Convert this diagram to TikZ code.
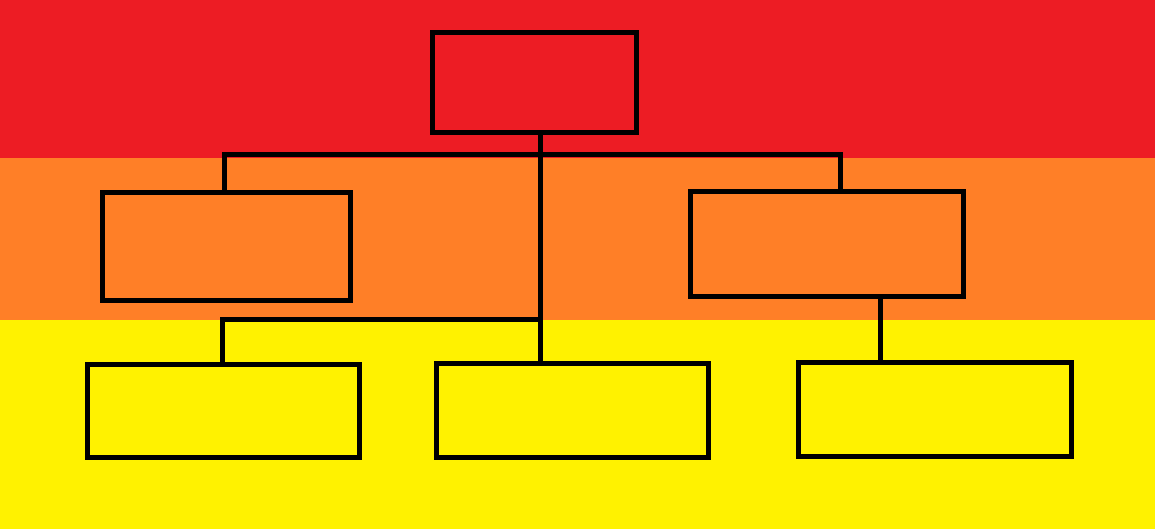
\documentclass[tikz,border=0pt]{standalone}
\usepackage{tikz}
\usepackage{color}

\definecolor{bandred}{HTML}{ED1C24}
\definecolor{bandorange}{HTML}{FF7F27}
\definecolor{bandyellow}{HTML}{FFF200}

\begin{document}
\begin{tikzpicture}[%
      x=1pt, y=-1pt,
      box/.style={draw=black, line width=5pt, rectangle, inner sep=0pt, outer sep=0pt},
      link/.style={draw=black, line width=5pt},
      ]
      \useasboundingbox (0,0) rectangle (1155,529);
      \fill [color=bandred] (0,0) rectangle (1155,158);
      \fill [color=bandorange] (0,158) rectangle (1155,320);
      \fill [color=bandyellow] (0,320) rectangle (1155,529);

      \node [box, minimum width=204pt, minimum height=100pt] (top) at (534.5,82.5) {};
      \node [box, minimum width=248.5pt, minimum height=108pt] (midL) at (226.25,246.5) {};
      \node [box, minimum width=272.7pt, minimum height=105pt] (midR) at (827.15,244) {};
      \node [box, minimum width=272pt, minimum height=93.5pt] (botL) at (223,410.75) {};
      \node [box, minimum width=271.5pt, minimum height=93.5pt] (botM) at (572.5,410.25) {};
      \node [box, minimum width=272.5pt, minimum height=93.5pt] (botR) at (934.75,409.25) {};

      \coordinate (trunk) at (540.5,132.5);
      \coordinate (busL) at (224.5,154.5);
      \coordinate (busR) at (840.2,154.5);
      \coordinate (subL) at (222.8,319.5);
      \coordinate (dropR) at (880.5,296.5);

      \draw [link] (busL |- midL.north) -- (busL) -- (busR) -- (busR |- midR.north);
      \draw [link] (trunk) -- (trunk |- botM.north);
      \draw [link] (subL |- botL.north) -- (subL) -- (trunk |- subL);
      \draw [link] (dropR) -- (dropR |- botR.north);
\end{tikzpicture}
\end{document}
